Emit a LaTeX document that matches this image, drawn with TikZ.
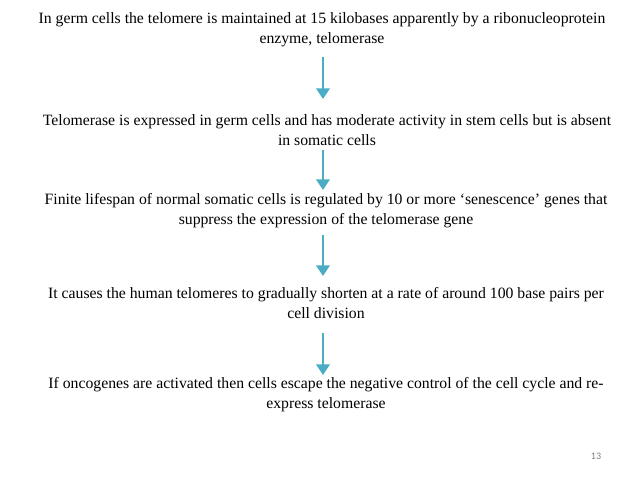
\documentclass[tikz,border=0pt]{standalone}
\usepackage{fontspec}
\setmainfont{Liberation Serif}
\setsansfont{Carlito}
\usetikzlibrary{arrows.meta}
\definecolor{arr}{HTML}{4BACC6}
\begin{document}
\begin{tikzpicture}[x=0.75pt,y=-0.75pt,
  txt/.style={align=center,font=\fontsize{11.8}{15}\selectfont,inner sep=0pt},
  flow/.style={draw=arr,line width=2.2pt,-{Triangle[width=10pt,length=8pt]}}]
\useasboundingbox (0,0) rectangle (638,478);
\node[txt] (t1) at (322,30) {In germ cells the telomere is maintained at 15 kilobases apparently by a ribonucleoprotein\\enzyme, telomerase};
\node[txt] (t2) at (327,130) {Telomerase is expressed in germ cells and has moderate activity in stem cells but is absent\\in somatic cells};
\node[txt] (t3) at (326,211) {Finite lifespan of normal somatic cells is regulated by 10 or more `senescence' genes that\\suppress the expression of the telomerase gene};
\node[txt] (t4) at (326,303) {It causes the human telomeres to gradually shorten at a rate of around 100 base pairs per\\cell division};
\node[txt] (t5) at (326,395) {If oncogenes are activated then cells escape the negative control of the cell cycle and re-\\express telomerase};
\coordinate (a1s) at (323,57); \coordinate (a1e) at (323,99);
\coordinate (a2s) at (323,150); \coordinate (a2e) at (323,190);
\coordinate (a3s) at (323,235); \coordinate (a3e) at (323,276);
\coordinate (a4s) at (323,333); \coordinate (a4e) at (323,375);
\draw[flow] (a1s) -- (a1e);
\draw[flow] (a2s) -- (a2e);
\draw[flow] (a3s) -- (a3e);
\draw[flow] (a4s) -- (a4e);
\node[font=\sffamily\fontsize{7.5}{9}\selectfont,text=gray] (pg) at (596,456) {13};
\end{tikzpicture}
\end{document}
